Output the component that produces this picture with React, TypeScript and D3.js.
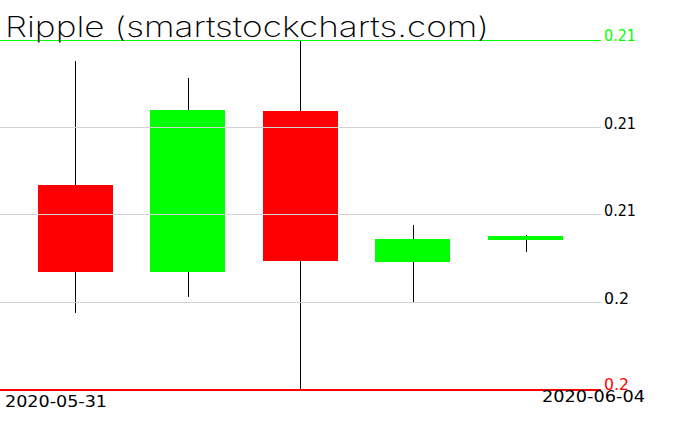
import * as d3 from "d3"

// candle data
const dates = ["2020-05-31", "2020-06-01", "2020-06-02", "2020-06-03", "2020-06-04"]
const opens = [0.20701, 0.20403, 0.20956, 0.20438, 0.20513]
const highs = [0.21128, 0.21069, 0.212, 0.20564, 0.20531]
const lows = [0.20262, 0.20317, 0.2, 0.203, 0.20472]
const closes = [0.20403, 0.20959, 0.20441, 0.20516, 0.20526]

const title = "Ripple (smartstockcharts.com)"
const priceMin = 0.2
const priceMax = 0.212
const gridCount = 4

const W = 676
const H = 431
const top = 40
const bottom = 389
const lineEnd = 601

const fmt = (v: number) => String(+v.toFixed(2))

export default function App() {
  const y = d3.scaleLinear().domain([priceMin, priceMax]).range([bottom, top])
  const x = d3.scalePoint<string>().domain(dates).range([75, 525.5])
  const bodyW = 75

  const ticks = d3.range(gridCount + 1).map(i => priceMin + (i * (priceMax - priceMin)) / gridCount)
  const inner = ticks.slice(1, -1)
  const px = (v: number) => Math.round(y(v)) + 0.5

  return (
    <svg width={W} height={H} style={{ position: "absolute", left: 0, top: 0, background: "#fff" }}>
      <rect width={W} height={H} fill="#fff" />

      {/* wicks */}
      {dates.map((d, i) => (
        <line key={"w" + d} x1={Math.round(x(d)!) + 0.5} x2={Math.round(x(d)!) + 0.5}
          y1={y(highs[i])} y2={y(lows[i])} stroke="#000" strokeWidth={1} shapeRendering="crispEdges" />
      ))}

      {/* bodies */}
      {dates.map((d, i) => {
        const up = closes[i] >= opens[i]
        const y0 = y(Math.max(opens[i], closes[i]))
        const y1 = y(Math.min(opens[i], closes[i]))
        return (
          <rect key={"b" + d} x={x(d)! - bodyW / 2} y={y0} width={bodyW} height={Math.max(y1 - y0, 3)}
            fill={up ? "#00ff00" : "#ff0000"} shapeRendering="crispEdges" />
        )
      })}

      {/* grid lines */}
      {inner.map(t => (
        <g key={"g" + t}>
          <line x1={0} x2={lineEnd} y1={px(t)} y2={px(t)} stroke="#d3d3d3" strokeWidth={1} shapeRendering="crispEdges" />
          <text x={604} y={px(t) + 1} fontFamily="DejaVu Sans" fontSize={15} fill="#000"
            textLength={fmt(t).length > 3 ? 32 : 25} lengthAdjust="spacingAndGlyphs">{fmt(t)}</text>
        </g>
      ))}

      {/* max / min lines */}
      <line x1={0} x2={lineEnd} y1={px(priceMax)} y2={px(priceMax)} stroke="#00ff00" strokeWidth={1.5} shapeRendering="crispEdges" />
      <text x={604} y={41} fontFamily="DejaVu Sans" fontSize={15} fill="#00ff00"
        textLength={32} lengthAdjust="spacingAndGlyphs">{fmt(priceMax)}</text>
      <rect x={0} y={y(priceMin)} width={lineEnd} height={2} fill="#ff0000" shapeRendering="crispEdges" />
      <text x={604} y={390} fontFamily="DejaVu Sans" fontSize={15} fill="#ff0000"
        textLength={25} lengthAdjust="spacingAndGlyphs">{fmt(priceMin)}</text>

      {/* title */}
      <text x={5} y={37} fontFamily="Inter, 'DejaVu Sans'" fontWeight={200} fontSize={28} fill="#000"
        textLength={484} lengthAdjust="spacingAndGlyphs">{title}</text>

      {/* date labels */}
      <text x={5} y={407} fontFamily="DejaVu Sans" fontSize={16} fill="#000"
        textLength={102} lengthAdjust="spacingAndGlyphs">{dates[0]}</text>
      <text x={542} y={402} fontFamily="DejaVu Sans" fontSize={16} fill="#000"
        textLength={103} lengthAdjust="spacingAndGlyphs">{dates[dates.length - 1]}</text>
    </svg>
  )
}
